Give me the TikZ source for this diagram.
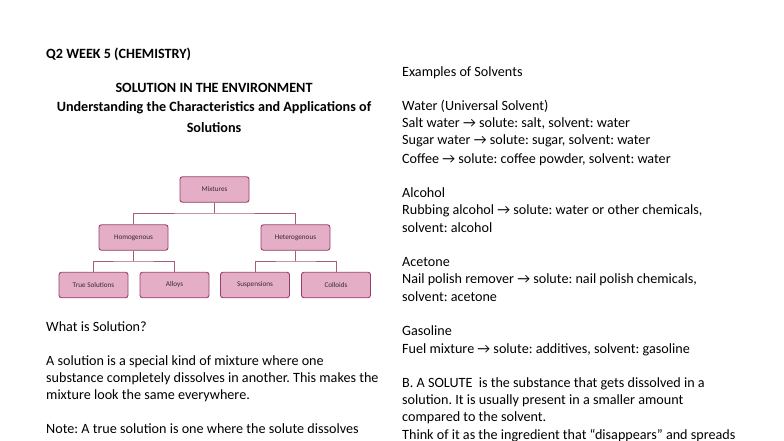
\documentclass[tikz,border=0pt]{standalone}
\usepackage{fontspec}
\setmainfont{Carlito}
\frenchspacing
\definecolor{boxfill}{HTML}{E3AEC6}
\definecolor{boxline}{HTML}{9A3F6C}
\definecolor{linkc}{HTML}{A85A80}
\definecolor{inkc}{HTML}{3A2A34}
\begin{document}
\begin{tikzpicture}[x=1pt,y=-1pt,
  box/.style={draw=boxline,fill=boxfill,line width=0.9pt,rounded corners=2.5pt,minimum width=69pt,minimum height=25.5pt,inner sep=0pt,font=\fontsize{7.2}{8}\selectfont,text=inkc},
  link/.style={draw=linkc,line width=1pt},
  body/.style={anchor=base west,inner sep=0pt,font=\fontsize{14.15}{16}\selectfont,text=black},
  head/.style={anchor=base,inner sep=0pt,font=\bfseries\fontsize{14.15}{16}\selectfont,text=black}]
\useasboundingbox (0,0) rectangle (784,441);
\fill[white] (0,0) rectangle (784,441);
% diagram
\node[box] (mix) at (214.5,189.5) {Mixtures};
\node[box] (hom) at (133.5,237.5) {Homogenous};
\node[box] (het) at (295.5,237.5) {Heterogenous};
\node[box] (tru) at (93.5,285) {True Solutions};
\node[box] (all) at (174.5,285) {Alloys};
\node[box] (sus) at (255,285) {Suspensions};
\node[box] (col) at (336,285) {Colloids};
\coordinate (mj) at (mix.south |- 0,213);
\coordinate (hj) at (hom.south |- 0,261);
\coordinate (tj) at (het.south |- 0,261);
\draw[link] (mix.south) -- (mj);
\draw[link] (hom.north) |- (mj) -| (het.north);
\draw[link] (hom.south) -- (hj);
\draw[link] (tru.north) |- (hj) -| (all.north);
\draw[link] (het.south) -- (tj);
\draw[link] (sus.north) |- (tj) -| (col.north);
% left column
\node[anchor=base west,inner sep=0pt,font=\bfseries\fontsize{14.15}{16}\selectfont] (t0) at (46,59) {Q2 WEEK 5 (CHEMISTRY)};
\node[head] (t1) at (214,93) {SOLUTION IN THE ENVIRONMENT};
\node[head] (t2) at (214,112) {Understanding the Characteristics and Applications of};
\node[head] (t3) at (214,132) {Solutions};
\node[body] (l1) at (46,331) {What is Solution?};
\node[body] (l2) at (46,365) {A solution is a special kind of mixture where one};
\node[body] (l3) at (46,382) {substance completely dissolves in another. This makes the};
\node[body] (l4) at (46,399) {mixture look the same everywhere.};
\node[body] (l5) at (46,433) {Note: A true solution is one where the solute dissolves};
% right column
\node[body] (r1) at (402,77) {Examples of Solvents};
\node[body] (r2) at (402,111) {Water (Universal Solvent)};
\node[body] (r3) at (402,128) {Salt water → solute: salt, solvent: water};
\node[body] (r4) at (402,145) {Sugar water → solute: sugar, solvent: water};
\node[body] (r5) at (402,163) {Coffee → solute: coffee powder, solvent: water};
\node[body] (r6) at (402,197) {Alcohol};
\node[body] (r7) at (402,214) {Rubbing alcohol → solute: water or other chemicals,};
\node[body] (r8) at (402,232) {solvent: alcohol};
\node[body] (r9) at (402,266) {Acetone};
\node[body] (r10) at (402,283) {Nail polish remover → solute: nail polish chemicals,};
\node[body] (r11) at (402,301) {solvent: acetone};
\node[body] (r12) at (402,335) {Gasoline};
\node[body] (r13) at (402,353) {Fuel mixture → solute: additives, solvent: gasoline};
\node[body] (r14) at (402,387) {B. A SOLUTE\ \ is the substance that gets dissolved in a};
\node[body] (r15) at (402,404) {solution. It is usually present in a smaller amount};
\node[body] (r16) at (402,421) {compared to the solvent.};
\node[body] (r17) at (402,439) {Think of it as the ingredient that “disappears” and spreads};
\end{tikzpicture}
\end{document}
